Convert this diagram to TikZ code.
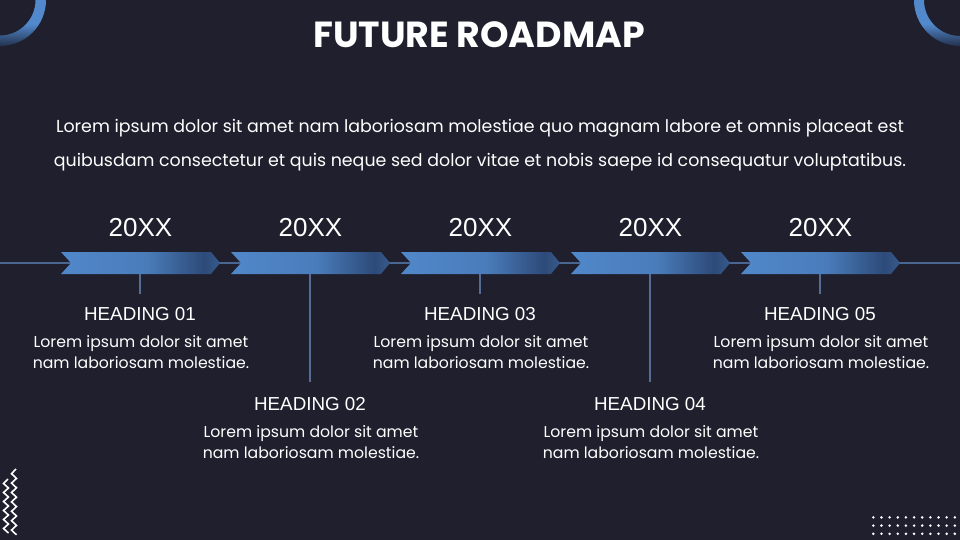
\documentclass[tikz,border=0pt]{standalone}
\usepackage{fontspec}
\setmainfont{Poppins}
\newfontfamily\arialf{Liberation Sans}
\newfontfamily\titlef{Poppins}[UprightFont=* Bold]
\newfontfamily\bodyf{Poppins}
\definecolor{bg}{HTML}{1F1F2D}
\definecolor{linec}{HTML}{4A6692}
\definecolor{tickc}{HTML}{566C94}
\definecolor{cA}{HTML}{5088CA}
\definecolor{cB}{HTML}{4A7CBA}
\definecolor{cC}{HTML}{2D4A79}
\definecolor{cD}{HTML}{375A8C}
\definecolor{ringL}{HTML}{5189CC}
\definecolor{ringD}{HTML}{23304C}
\pgfdeclarehorizontalshading{chevsh}{100bp}{color(0bp)=(cA); color(25bp)=(cA); color(52bp)=(cB); color(70bp)=(cC); color(75bp)=(cD); color(100bp)=(cD)}
\pgfdeclareverticalshading{ringsh}{100bp}{color(0bp)=(ringD); color(25bp)=(ringD); color(37bp)=(ringL); color(100bp)=(ringL)}
\begin{document}
\begin{tikzpicture}[x=1pt,y=-1pt,
  yearst/.style={font=\arialf\fontsize{26}{30}\selectfont, text=white, inner sep=0pt, anchor=base},
  headst/.style={font=\arialf\fontsize{18.8}{22}\selectfont, text=white, inner sep=0pt, anchor=base},
  smallst/.style={font=\bodyf\fontsize{15.7}{20}\selectfont, text=white, inner sep=0pt, anchor=base},
  bodyst/.style={font=\bodyf\fontsize{17.4}{22}\selectfont, text=white, inner sep=0pt, anchor=base},
  chev/.style={shading=chevsh},
  tickline/.style={draw=tickc, line width=1.3pt},
  zig/.style={draw=white, line width=1.6pt, line join=miter},
  dotst/.style={fill=white}
]
\fill[bg] (0,0) rectangle (960,540);
\useasboundingbox (0,0) rectangle (960,540);
% corner rings
\begin{scope}
\clip (0,0) rectangle (960,540);
\shade[shading=ringsh, even odd rule] (0,0) circle (46) (0,0) circle (35.5);
\shade[shading=ringsh, even odd rule] (960,0) circle (46) (960,0) circle (36);
\end{scope}
% title
\node[font=\titlef\fontsize{36.3}{42}\selectfont, text=white, inner sep=0pt, anchor=base] (title) at (479,48) {FUTURE ROADMAP};
% intro
\node[bodyst] (intro1) at (480,132.5) {Lorem ipsum dolor sit amet nam laboriosam molestiae quo magnam labore et omnis placeat est};
\node[bodyst] (intro2) at (480,167) {quibusdam consectetur et quis neque sed dolor vitae et nobis saepe id consequatur voluptatibus.};
% axis
\coordinate (axL) at (0,263);
\coordinate (axR) at (960,263);
\draw[draw=linec, line width=1.5pt] (axL) -- (axR);
% chevrons, years, ticks, headings
\foreach \i/\x/\hy/\te in {1/61/320/294, 2/231/410/382, 3/401/320/294, 4/571/410/382, 5/741/320/294}{
  \shade[chev] (\x,252) -- ++(150,0) -- ++(9,11) -- ++(-9,11) -- ++(-150,0) -- ++(10,-11) -- cycle;
  \coordinate (cb\i) at (\x+79,274);
  \coordinate (te\i) at (\x+79,\te);
  \node[yearst] (y\i) at (\x+79.5,236.7) {20XX};
  \draw[tickline] (cb\i) -- (te\i);
  \node[headst] (h\i) at (\x+79,\hy) {HEADING 0\i};
  \node[smallst] (ba\i) at (\x+80,\hy+27.5) {Lorem ipsum dolor sit amet};
  \node[smallst] (bb\i) at (\x+80,\hy+48.5) {nam laboriosam molestiae.};
}
% zigzags
\draw[zig] (8,479) \foreach \k in {1,...,12}{ -- ({ifthenelse(mod(\k,2)==1,3.5,8.5)},{479+4.5*\k}) };
\draw[zig] (16,469) \foreach \k in {1,...,14}{ -- ({ifthenelse(mod(\k,2)==1,11.5,16.5)},{469+4.7*\k}) };
% dots
\foreach \r in {0,1,2}{
  \foreach \c in {0,...,10}{
    \fill[dotst] (873.3+8.15*\c,517.4+8.2*\r) circle (1.4);
  }
}
\end{tikzpicture}
\end{document}
